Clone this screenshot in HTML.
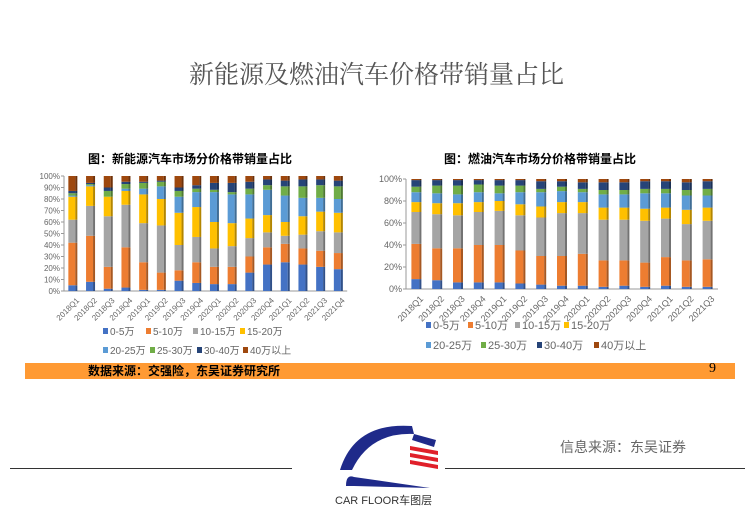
<!DOCTYPE html>
<html><head><meta charset="utf-8"><style>
body{margin:0;width:753px;height:520px;background:#fff;overflow:hidden;position:relative;font-family:"Liberation Sans","Noto Sans CJK SC",sans-serif}
.abs{position:absolute}
</style></head><body>
<div class="abs" style="left:0;width:753px;top:55px;text-align:center;font-size:25px;color:#555;font-family:'Liberation Serif','Noto Serif CJK SC',serif">新能源及燃油汽车价格带销量占比</div>
<div class="abs" style="left:70px;width:240px;top:150px;text-align:center;font-size:12px;font-weight:bold;color:#000">图：新能源汽车市场分价格带销量占比</div>
<div class="abs" style="left:420px;width:240px;top:150px;text-align:center;font-size:12px;font-weight:bold;color:#000">图：燃油汽车市场分价格带销量占比</div>
<svg class="abs" style="left:0;top:0" width="753" height="520" id="chart"></svg>
<div class="abs" style="left:25px;top:363px;width:710px;height:16px;background:#FF9A33"></div>
<div class="abs" style="left:88px;top:362px;font-size:12px;font-weight:bold;color:#000">数据来源：交强险，东吴证券研究所</div>
<div class="abs" style="left:709px;top:361px;font-size:14px;color:#000;font-family:'Liberation Serif',serif">9</div>
<div class="abs" style="left:560px;top:437px;font-size:14px;color:#666">信息来源：东吴证券</div>
<div class="abs" style="left:10px;top:468px;width:282px;height:1px;background:#333"></div>
<div class="abs" style="left:445px;top:468px;width:300px;height:1px;background:#333"></div>
<svg class="abs" style="left:330px;top:420px" width="110" height="90">
<path d="M10 50 Q25 2 82 6 L84 14 Q40 12 22 50 Z" fill="#1f2a8a"/>
<path d="M84 14 L106 20 L104 27 L82 20Z" fill="#1f2a8a"/>
<path d="M80 26 L108 31 L108 35 L80 30Z" fill="#e0202a"/>
<path d="M80 33 L108 38 L108 42 L80 37Z" fill="#e0202a"/>
<path d="M80 40 L108 45 L108 49 L80 44Z" fill="#e0202a"/>
<path d="M16 66 Q16 54 24 57 L100 68 L24 66Z" fill="#1f2a8a"/>
<text x="5" y="84" font-size="11" fill="#333" font-family="Liberation Sans,Noto Sans CJK SC,sans-serif">CAR FLOOR车图层</text>
</svg>
<script>
const colors=["#4472C4","#ED7D31","#A5A5A5","#FFC000","#5B9BD5","#70AD47","#264478","#9E480E"];
const seriesNames=["0-5万","5-10万","10-15万","15-20万","20-25万","25-30万","30-40万","40万以上"];
const catsL=["2018Q1","2018Q2","2018Q3","2018Q4","2019Q1","2019Q2","2019Q3","2019Q4","2020Q1","2020Q2","2020Q3","2020Q4","2021Q1","2021Q2","2021Q3","2021Q4"];
const catsR=["2018Q1","2018Q2","2018Q3","2018Q4","2019Q1","2019Q2","2019Q3","2019Q4","2020Q1","2020Q2","2020Q3","2020Q4","2021Q1","2021Q2","2021Q3"];
const nevData=[[5,37,20,20,1,2,2,13],[8,40,26,17,1,1,1,6],[2,19,44,17,0,5,3,10],[3,35,37,12,2,4,2,5],[1,24,34,25,5,5,1,5],[1,15,41,23,11,4,1,4],[9,9,22,28,14,5,3,10],[7,18,22,26,13,3,3,8],[6,15,16,23,26,2,6,6],[6,15,18,20,25,2,8,6],[16,14,16,17,21,5,6,5],[23,15,13,15,22,4,5,3],[25,16,7,12,23,8,5,4],[23,14,12,16,16,10,6,3],[21,14,17,17,12,11,5,3],[19,14,18,17,12,11,5,4]];
const iceData=[[9,32,29,9,9,5,6,1],[8,29,31,10,9,7,5,1],[6,31,30,11,8,8,5,1],[6,34,30,9,9,7,4,1],[6,34,31,9,7,7,5,1],[5,30,32,10,11,6,5,1],[4,26,35,10,13,3,7,2],[3,27,39,10,10,4,5,2],[3,29,37,10,9,3,6,3],[2,24,37,11,12,4,7,3],[3,23,37,11,12,4,7,3],[2,22,38,11,14,4,7,2],[3,26,35,10,13,4,7,2],[2,24,33,13,13,5,7,3],[2,25,35,12,11,6,7,2]];
const ticksL=[0,10,20,30,40,50,60,70,80,90,100];
const ticksR=[0,20,40,60,80,100];
const svg=document.getElementById('chart');const NS="http://www.w3.org/2000/svg";
function el(t,a,p){const e=document.createElementNS(NS,t);for(const k in a)e.setAttribute(k,a[k]);(p||svg).appendChild(e);return e;}
function darken(c){const n=parseInt(c.slice(1),16);return "rgb("+[(n>>16)*0.7,((n>>8)&255)*0.7,(n&255)*0.7].map(Math.round).join(",")+")";}
function draw(cfg){
 const y=v=>cfg.y0-(v/100)*(cfg.y0-cfg.y1);
 const x=i=>cfg.x0+cfg.step*(i+0.5);
 const ax=el('line',{x1:cfg.x0,x2:cfg.x0+cfg.step*cfg.cats.length,y1:cfg.y0,y2:cfg.y0,stroke:'#999'});
 
 const ay=el('line',{x1:cfg.x0,x2:cfg.x0,y1:cfg.y0,y2:cfg.y1,stroke:'#999'});
 
 cfg.ticks.forEach(t=>{const tx=el('text',{x:cfg.x0-4,y:y(t)+3,'text-anchor':'end','font-size':cfg.fs,fill:'#666'});tx.textContent=t+'%';
  
  el('line',{x1:cfg.x0-3,x2:cfg.x0,y1:y(t),y2:y(t),stroke:'#999'});});
 cfg.cats.forEach((c,i)=>{let cum=0;const cx=x(i);
  cfg.data[i].forEach((v,s)=>{if(v<=0)return;const top=y(cum+v),bot=y(cum);
   const r=el('rect',{x:cx-cfg.bw/2,y:top,width:cfg.bw-2,height:bot-top,fill:colors[s]});
   
   el('rect',{x:cx+cfg.bw/2-2,y:top,width:2,height:bot-top,fill:darken(colors[s])});
   cum+=v;});
  const lx=cx+3,ly=cfg.y0+6;
  const t=el('text',{x:lx,y:ly,'text-anchor':'end','font-size':cfg.fs,fill:'#666',transform:`rotate(-45 ${lx} ${ly})`,dy:'0.7em'});t.textContent=c;
  
 });
 seriesNames.forEach((n,s)=>{const lp=cfg.leg[s];
  const r=el('rect',{x:lp[0],y:lp[1]-7,width:5,height:6,fill:colors[s]});
  
  const t=el('text',{x:lp[0]+7,y:lp[1],'font-size':cfg.lfs,fill:'#666'});t.textContent=n;
  });
}
draw({id:'nev',cats:catsL,data:nevData,ticks:ticksL,x0:64,step:17.7,y0:291,y1:176,bw:9,fs:8,lfs:10,
 leg:[[103,335],[146,335],[193,335],[240,335],[103,354],[150,354],[197,354],[243,354]]});
draw({id:'ice',cats:catsR,data:iceData,ticks:ticksR,x0:406,step:20.8,y0:289,y1:179,bw:10,fs:9,lfs:11,
 leg:[[426,329],[468,329],[515,329],[564,329],[426,349],[481,349],[537,349],[594,349]]});
</script>
</body></html>
